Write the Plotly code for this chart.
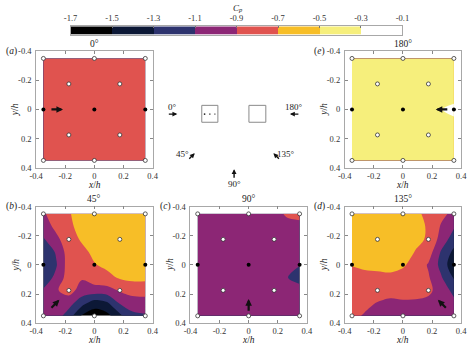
import plotly.graph_objects as go

FIG_W, FIG_H = 474, 350
SERIF = "Liberation Serif"

# Measurement grid on the building face (x/h, y/h)
grid_x = [-0.35, -0.2625, -0.175, -0.0875, 0.0, 0.0875, 0.175, 0.2625, 0.35]
grid_y = [-0.35, -0.2625, -0.175, -0.0875, 0.0, 0.0875, 0.175, 0.2625, 0.35]

# Cp band edges and the colour of each band
cp_levels = [-1.7, -1.5, -1.3, -1.1, -0.9, -0.7, -0.5, -0.3, -0.1]
band_colors = ["#000000", "#0c1836", "#2d336e", "#8c2675",
               "#e0534f", "#f7be27", "#f6ef7c", "#ffffff"]

# Mean pressure coefficient, rows follow grid_y, columns follow grid_x
cp_0deg = [
    [-0.80, -0.80, -0.80, -0.80, -0.80, -0.80, -0.80, -0.80, -0.80],
    [-0.80, -0.80, -0.80, -0.80, -0.80, -0.80, -0.80, -0.80, -0.80],
    [-0.80, -0.80, -0.80, -0.80, -0.80, -0.80, -0.80, -0.80, -0.80],
    [-0.80, -0.80, -0.80, -0.80, -0.80, -0.80, -0.80, -0.80, -0.80],
    [-0.80, -0.80, -0.80, -0.80, -0.80, -0.80, -0.80, -0.80, -0.80],
    [-0.80, -0.80, -0.80, -0.80, -0.80, -0.80, -0.80, -0.80, -0.80],
    [-0.80, -0.80, -0.80, -0.80, -0.80, -0.80, -0.80, -0.80, -0.80],
    [-0.80, -0.80, -0.80, -0.80, -0.80, -0.80, -0.80, -0.80, -0.80],
    [-0.80, -0.80, -0.80, -0.80, -0.80, -0.80, -0.80, -0.80, -0.80],
]
cp_180deg = [
    [-0.40, -0.40, -0.40, -0.40, -0.40, -0.40, -0.40, -0.40, -0.40],
    [-0.40, -0.40, -0.40, -0.40, -0.40, -0.40, -0.40, -0.40, -0.40],
    [-0.40, -0.40, -0.40, -0.40, -0.40, -0.40, -0.40, -0.40, -0.40],
    [-0.40, -0.40, -0.40, -0.40, -0.40, -0.40, -0.40, -0.40, -0.42],
    [-0.40, -0.40, -0.40, -0.40, -0.40, -0.40, -0.40, -0.31, -0.20],
    [-0.40, -0.40, -0.40, -0.40, -0.40, -0.40, -0.40, -0.40, -0.38],
    [-0.40, -0.40, -0.40, -0.40, -0.40, -0.40, -0.40, -0.40, -0.40],
    [-0.40, -0.40, -0.40, -0.40, -0.40, -0.40, -0.40, -0.40, -0.40],
    [-0.40, -0.40, -0.40, -0.40, -0.40, -0.40, -0.40, -0.40, -0.40],
]
cp_45deg = [
    [-0.92, -0.82, -0.72, -0.60, -0.58, -0.56, -0.55, -0.55, -0.55],
    [-1.00, -0.85, -0.75, -0.62, -0.60, -0.57, -0.55, -0.55, -0.55],
    [-1.12, -0.95, -0.78, -0.68, -0.62, -0.58, -0.56, -0.55, -0.55],
    [-1.25, -1.08, -0.80, -0.75, -0.66, -0.60, -0.58, -0.55, -0.55],
    [-1.32, -1.12, -0.80, -0.80, -0.71, -0.66, -0.62, -0.55, -0.55],
    [-1.22, -1.05, -0.80, -0.88, -0.80, -0.75, -0.68, -0.65, -0.66],
    [-1.08, -0.92, -0.82, -0.98, -0.98, -0.98, -0.88, -0.82, -0.80],
    [-1.00, -1.00, -1.02, -1.22, -1.40, -1.33, -1.08, -1.00, -1.00],
    [-0.88, -1.00, -1.20, -1.52, -1.62, -1.56, -1.35, -1.15, -1.12],
]
cp_90deg = [
    [-1.00, -1.00, -1.00, -1.00, -1.00, -1.00, -1.00, -0.86, -0.78],
    [-1.00, -1.00, -1.00, -1.00, -1.00, -1.00, -1.00, -1.00, -1.02],
    [-1.00, -1.00, -1.00, -1.00, -1.00, -1.00, -1.00, -1.00, -1.00],
    [-1.00, -1.00, -1.00, -1.00, -1.00, -1.00, -1.00, -1.00, -1.00],
    [-1.00, -1.00, -1.00, -1.00, -1.00, -1.00, -1.00, -1.02, -1.09],
    [-1.00, -1.00, -1.00, -1.00, -1.00, -1.00, -1.00, -1.09, -1.20],
    [-1.00, -1.00, -1.00, -1.00, -1.00, -1.00, -1.00, -1.00, -1.00],
    [-1.00, -1.00, -1.00, -1.00, -1.00, -1.00, -1.00, -1.00, -1.00],
    [-1.00, -1.00, -1.00, -1.00, -1.00, -1.00, -1.00, -1.00, -1.00],
]
cp_135deg = [
    [-0.60, -0.58, -0.56, -0.56, -0.58, -0.66, -0.75, -0.85, -0.95],
    [-0.60, -0.58, -0.56, -0.56, -0.58, -0.64, -0.72, -0.92, -1.08],
    [-0.60, -0.58, -0.57, -0.57, -0.60, -0.66, -0.72, -0.98, -1.20],
    [-0.62, -0.60, -0.60, -0.60, -0.62, -0.71, -0.80, -1.12, -1.35],
    [-0.69, -0.66, -0.65, -0.64, -0.68, -0.76, -0.92, -1.16, -1.45],
    [-0.78, -0.76, -0.75, -0.74, -0.76, -0.80, -0.88, -1.08, -1.32],
    [-0.80, -0.80, -0.80, -0.82, -0.82, -0.83, -0.86, -0.98, -1.16],
    [-0.82, -0.85, -0.91, -0.95, -0.93, -0.93, -0.95, -0.95, -1.05],
    [-0.85, -0.92, -1.00, -1.02, -1.00, -1.00, -1.00, -1.00, -1.00],
]

# Pressure taps: open circles and the mid-height row of solid dots
open_x = [-0.35, 0.0, 0.35, -0.175, 0.175, -0.175, 0.175, -0.35, 0.0, 0.35]
open_y = [-0.35, -0.35, -0.35, -0.175, -0.175, 0.175, 0.175, 0.35, 0.35, 0.35]
solid_x = [-0.35, 0.0, 0.35]
solid_y = [0.0, 0.0, 0.0]

# Panels in subplot order: tag, wind angle, field, flow arrow (tail -> head)
panel_tags = ["a", "e", "b", "c", "d"]
wind_labels = ["0°", "180°", "45°", "90°", "135°"]
cp_fields = [cp_0deg, cp_180deg, cp_45deg, cp_90deg, cp_135deg]
flow_tail = [(-0.305, 0.0), (0.315, 0.0), (-0.305, 0.305), (0.0, 0.325), (0.305, 0.305)]
flow_head = [(-0.215, 0.0), (0.225, 0.0), (-0.24, 0.24), (0.0, 0.235), (0.24, 0.24)]

tick_vals = [-0.4, -0.2, 0.0, 0.2, 0.4]
tick_text = ["-0.4", "-0.2", "0", "0.2", "0.4"]

# Layout in pixels
col_left = [30, 189, 348]
row_top = [47.5, 207.5]
PANEL = 120
panel_slots = [(0, 0), (2, 0), (0, 1), (1, 1), (2, 1)]


def fx(px):
    return px / FIG_W


def fy(py):
    return 1 - py / FIG_H


n_bands = len(band_colors)
colorscale = []
for i, c in enumerate(band_colors):
    colorscale += [[i / n_bands, c], [(i + 1) / n_bands, c]]

step = round(cp_levels[2] - cp_levels[1], 6)

fig = go.Figure()
layout = dict(
    width=FIG_W, height=FIG_H,
    margin=dict(l=0, r=0, t=0, b=0),
    paper_bgcolor="white", plot_bgcolor="white",
    showlegend=False,
    font=dict(family=SERIF, size=9, color="#222222"),
)

annotations = []
shapes = []
axis_line = "#a8a8a8"
tick_font = dict(family=SERIF, size=8.5, color="#333333")

for k, ((col, row), tag, label, field, tail, head) in enumerate(
        zip(panel_slots, panel_tags, wind_labels, cp_fields, flow_tail, flow_head), start=1):
    xa, ya = f"x{k}", f"y{k}"
    x0, y0 = col_left[col], row_top[row]

    fig.add_trace(go.Contour(
        x=grid_x, y=grid_y, z=field, xaxis=xa, yaxis=ya,
        colorscale=colorscale, showscale=False, autocontour=False,
        contours=dict(start=cp_levels[1], end=cp_levels[-2], size=step,
                      coloring="fill", showlines=False),
        line=dict(width=0), hoverinfo="skip"))
    fig.add_trace(go.Scatter(
        x=open_x, y=open_y, mode="markers", xaxis=xa, yaxis=ya,
        marker=dict(symbol="circle", size=4, color="white",
                    line=dict(color="#333333", width=0.8)),
        hoverinfo="skip"))
    fig.add_trace(go.Scatter(
        x=solid_x, y=solid_y, mode="markers", xaxis=xa, yaxis=ya,
        marker=dict(symbol="circle", size=4, color="black"),
        hoverinfo="skip"))

    common = dict(tickvals=tick_vals, ticktext=tick_text, ticks="inside",
                  ticklen=3, tickwidth=0.6, tickcolor="#888888",
                  showline=True, mirror="ticks", linecolor=axis_line,
                  linewidth=0.7, showgrid=False, zeroline=False,
                  tickfont=tick_font, fixedrange=True)
    layout["xaxis" + ("" if k == 1 else str(k))] = dict(
        domain=[fx(x0), fx(x0 + PANEL)], range=[-0.4, 0.4], anchor=ya,
        ticklabelstandoff=0, **common)
    layout["yaxis" + ("" if k == 1 else str(k))] = dict(
        domain=[fy(y0 + PANEL), fy(y0)], range=[0.4, -0.4], anchor=xa,
        ticklabelstandoff=2, **common)

    cx = x0 + PANEL / 2
    annotations.append(dict(text=label, xref="paper", yref="paper",
                            x=fx(cx), y=fy(y0 - 7.5), showarrow=False,
                            xanchor="center", yanchor="middle",
                            font=dict(family=SERIF, size=9.5)))
    annotations.append(dict(text=f"(<i>{tag}</i>)", xref="paper", yref="paper",
                            x=fx(x0 - 18), y=fy(y0), showarrow=False,
                            xanchor="right", yanchor="middle",
                            font=dict(family=SERIF, size=9.5)))
    annotations.append(dict(text="<i>x</i>/<i>h</i>", xref="paper", yref="paper",
                            x=fx(cx), y=fy(y0 + PANEL + 17.5), showarrow=False,
                            xanchor="center", yanchor="middle",
                            font=dict(family=SERIF, size=9.5)))
    annotations.append(dict(text="<i>y</i>/<i>h</i>", xref="paper", yref="paper",
                            x=fx(x0 - 21), y=fy(y0 + PANEL / 2), showarrow=False,
                            textangle=-90, xanchor="center", yanchor="middle",
                            font=dict(family=SERIF, size=9.5)))
    annotations.append(dict(text="", xref=xa, yref=ya, axref=xa, ayref=ya,
                            x=head[0], y=head[1], ax=tail[0], ay=tail[1],
                            showarrow=True, arrowhead=2, arrowsize=0.6,
                            arrowwidth=2.2, arrowcolor="#111111",
                            standoff=0, startstandoff=0))

# Horizontal Cp colour bar built from the band edges
band_mid = [(a + b) / 2 for a, b in zip(cp_levels[:-1], cp_levels[1:])]
fig.add_trace(go.Heatmap(
    x=cp_levels, y=[0, 1], z=[band_mid], xaxis="x6", yaxis="y6",
    colorscale=colorscale, zmin=cp_levels[0], zmax=cp_levels[-1],
    showscale=False, hoverinfo="skip"))
layout["xaxis6"] = dict(domain=[fx(65.5), fx(407.5)], range=[cp_levels[0], cp_levels[-1]],
                        anchor="y6", side="top", tickvals=cp_levels,
                        ticktext=[f"{v:.1f}" for v in cp_levels],
                        ticks="inside", ticklen=2, tickcolor="#777777",
                        showline=True, mirror=True, linecolor=axis_line,
                        linewidth=0.7, showgrid=False, zeroline=False,
                        tickfont=tick_font, ticklabelstandoff=1, fixedrange=True)
layout["yaxis6"] = dict(domain=[fy(30.5), fy(22)], range=[0, 1], anchor="x6",
                        showticklabels=False, ticks="", showline=True, mirror=True,
                        linecolor=axis_line, linewidth=0.7, showgrid=False,
                        zeroline=False, fixedrange=True)
# Colour-bar title: C with a lowered p
annotations.append(dict(text="<i>C</i>", xref="paper", yref="paper",
                        x=fx(236.5), y=fy(3), showarrow=False,
                        xanchor="center", yanchor="middle", borderpad=0,
                        font=dict(family=SERIF, size=9)))
annotations.append(dict(text="<i>p</i>", xref="paper", yref="paper",
                        x=fx(241), y=fy(5), showarrow=False,
                        xanchor="center", yanchor="middle", borderpad=0,
                        font=dict(family=SERIF, size=6.5)))

# Sketch of the two buildings and the wind directions
for left, right in [(200.7, 217.3), (249.3, 266.7)]:
    shapes.append(dict(type="rect", xref="paper", yref="paper",
                       x0=fx(left), x1=fx(right), y0=fy(120.7), y1=fy(103.3),
                       line=dict(color="#8a8a8a", width=1), fillcolor="rgba(0,0,0,0)"))
for px, col in [(203.6, "#222222"), (209.0, "#666666"), (214.2, "#888888")]:
    shapes.append(dict(type="circle", xref="paper", yref="paper",
                       x0=fx(px - 0.9), x1=fx(px + 0.9), y0=fy(113.2), y1=fy(111.4),
                       line=dict(width=0), fillcolor=col))

sketch_labels = [("0°", 171, 104.5), ("180°", 296, 104.5), ("45°", 181, 153),
                 ("135°", 287, 153), ("90°", 234, 184)]
for text, px, py in sketch_labels:
    annotations.append(dict(text=text, xref="paper", yref="paper", x=fx(px), y=fy(py),
                            showarrow=False, xanchor="center", yanchor="middle",
                            font=dict(family=SERIF, size=9)))

sketch_arrows = [(175.5, 112.3, -10, 0), (291.5, 112.3, 10, 0), (193.5, 152.5, -7, 7),
                 (274.5, 152.5, 7, 7), (234.0, 169.0, 0, 10)]
for hx, hy, dx, dy in sketch_arrows:
    annotations.append(dict(text="", xref="paper", yref="paper", x=fx(hx), y=fy(hy),
                            ax=dx, ay=dy, showarrow=True, arrowhead=2, arrowsize=0.7,
                            arrowwidth=1.4, arrowcolor="#111111", standoff=0))

layout["annotations"] = annotations
layout["shapes"] = shapes
fig.update_layout(**layout)
fig.write_html("out.html")
